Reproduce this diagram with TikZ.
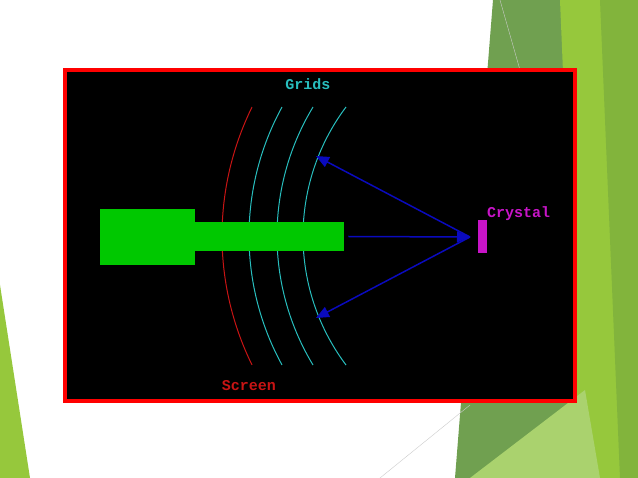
\documentclass[tikz,border=0pt]{standalone}
\usepackage{fontspec}
\setmonofont{Liberation Mono}
\usetikzlibrary{arrows.meta}
\definecolor{dg}{RGB}{112,160,80}
\definecolor{mg}{RGB}{130,180,60}
\definecolor{lg}{RGB}{150,200,60}
\definecolor{pg}{RGB}{170,210,110}
\definecolor{gr}{RGB}{0,200,0}
\definecolor{cy}{RGB}{40,190,190}
\definecolor{rd}{RGB}{200,20,20}
\definecolor{mag}{RGB}{200,20,200}
\definecolor{bl}{RGB}{10,10,190}
\tikzset{lbl/.style={font=\ttfamily\bfseries\fontsize{15}{15}\selectfont,inner sep=0pt},
arr/.style={draw=bl,line width=1.5pt,-{Triangle[length=13pt,width=11pt]}},
grid/.style={draw=cy,line width=1pt}}
\begin{document}
\begin{tikzpicture}[x=1pt,y=-1pt]
\useasboundingbox (0,0) rectangle (638,478);
\fill[white] (0,0) rectangle (638,478);
\fill[dg] (493,0) -- (570,0) -- (600,478) -- (455,478) -- cycle;
\fill[lg] (560,0) -- (638,0) -- (638,478) -- (580,478) -- cycle;
\fill[mg] (600,0) -- (638,0) -- (638,478) -- (620,478) -- cycle;
\fill[pg] (470,478) -- (585,390) -- (600,478) -- cycle;
\fill[lg] (0,285) -- (30,478) -- (0,478) -- cycle;
\draw[gray!40] (500,0) -- (520,70);
\draw[gray!40] (380,478) -- (470,405);
\fill[black] (65,70) rectangle (575,401);
\draw[red,line width=4.5pt] (65,70) rectangle (575,401);
% arcs
\draw[rd,line width=1pt] plot[domain=-26.2:26.2,samples=40,smooth] ({514-292*cos(\x)},{236+292*sin(\x)});
\draw[grid] plot[domain=-28.7:28.7,samples=40,smooth] ({517.6-268.6*cos(\x)},{236+268.6*sin(\x)});
\draw[grid] plot[domain=-31.2:31.2,samples=40,smooth] ({526.1-249.1*cos(\x)},{236+249.1*sin(\x)});
\draw[grid] plot[domain=-36.9:36.9,samples=40,smooth] ({518-215*cos(\x)},{236+215*sin(\x)});
% gun
\fill[gr] (100,209) rectangle (195,265);
\node[fill=gr,minimum width=149pt,minimum height=29pt,inner sep=0pt,anchor=west] (gun) at (195,236.5) {};
% crystal
\node[fill=mag,minimum width=9pt,minimum height=33pt,inner sep=0pt] (cr) at (482.5,236.5) {};
\coordinate (c) at (470,237);
\coordinate (u) at (316,156);
\coordinate (l) at (316,318);
\coordinate (m) at (470,237);
\draw[arr] (c) -- (u);
\draw[arr] (c) -- (l);
\draw[arr] (gun.east) ++(4,0) -- (m);
\node[lbl,text=cy] (g) at (308,84) {Grids};
\node[lbl,text=rd] (s) at (249,386) {Screen};
\node[lbl,text=mag,anchor=west] (ct) at (487,214) {Crystal};
\end{tikzpicture}
\end{document}
